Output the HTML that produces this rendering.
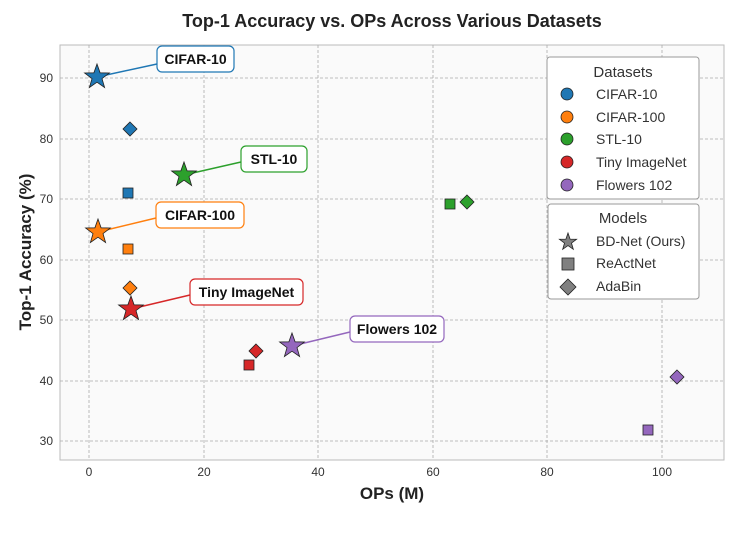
<!DOCTYPE html>
<html><head><meta charset="utf-8"><style>body{margin:0;background:#fff}svg{display:block;font-family:"Liberation Sans",Arial,sans-serif}</style></head><body>
<svg width="731" height="539" viewBox="0 0 731 539" xmlns="http://www.w3.org/2000/svg">
<defs>
<path id="star" d="M0,-13 L3.1,-4.2 12.4,-4 5,1.6 7.6,10.5 0,5.2 -7.6,10.5 -5,1.6 -12.4,-4 -3.1,-4.2Z"/>
<path id="sstar" d="M0,-9 L2.1,-2.9 8.6,-2.8 3.5,1.1 5.3,7.3 0,3.6 -5.3,7.3 -3.5,1.1 -8.6,-2.8 -2.1,-2.9Z"/>
</defs>
<rect x="60" y="45" width="664" height="415" fill="#fafafa" stroke="#bbb"/>
<g stroke="#aaa" stroke-dasharray="3,2" stroke-width="0.8">
<line x1="89" y1="45" x2="89" y2="460"/><line x1="204" y1="45" x2="204" y2="460"/><line x1="318" y1="45" x2="318" y2="460"/><line x1="433" y1="45" x2="433" y2="460"/><line x1="547" y1="45" x2="547" y2="460"/><line x1="662" y1="45" x2="662" y2="460"/>
<line x1="60" y1="78" x2="724" y2="78"/><line x1="60" y1="139" x2="724" y2="139"/><line x1="60" y1="199" x2="724" y2="199"/><line x1="60" y1="260" x2="724" y2="260"/><line x1="60" y1="320" x2="724" y2="320"/><line x1="60" y1="381" x2="724" y2="381"/><line x1="60" y1="441" x2="724" y2="441"/>
</g>
<g font-size="12" fill="#333" text-anchor="middle">
<text x="89" y="476">0</text><text x="204" y="476">20</text><text x="318" y="476">40</text><text x="433" y="476">60</text><text x="547" y="476">80</text><text x="662" y="476">100</text>
</g>
<g font-size="12" fill="#333" text-anchor="end">
<text x="53" y="82">90</text><text x="53" y="143">80</text><text x="53" y="203">70</text><text x="53" y="264">60</text><text x="53" y="324">50</text><text x="53" y="385">40</text><text x="53" y="445">30</text>
</g>
<text x="392" y="499" font-size="17" font-weight="bold" fill="#222" text-anchor="middle">OPs (M)</text>
<text transform="translate(31,252) rotate(-90)" font-size="17" font-weight="bold" fill="#222" text-anchor="middle">Top-1 Accuracy (%)</text>
<text x="392" y="27" font-size="18" font-weight="bold" fill="#222" text-anchor="middle">Top-1 Accuracy vs. OPs Across Various Datasets</text>
<g stroke-width="1.5">
<line x1="97" y1="77" x2="157" y2="64" stroke="#1f77b4"/>
<line x1="184" y1="175" x2="241" y2="162" stroke="#2ca02c"/>
<line x1="98" y1="232" x2="156" y2="218" stroke="#ff7f0e"/>
<line x1="131" y1="309" x2="190" y2="295" stroke="#d62728"/>
<line x1="292" y1="346" x2="350" y2="332" stroke="#9467bd"/>
</g>
<g stroke="#222" stroke-width="0.8">
<rect x="123" y="188" width="10" height="10" fill="#1f77b4"/>
<rect x="123" y="244" width="10" height="10" fill="#ff7f0e"/>
<rect x="244" y="360" width="10" height="10" fill="#d62728"/>
<rect x="445" y="199" width="10" height="10" fill="#2ca02c"/>
<rect x="643" y="425" width="10" height="10" fill="#9467bd"/>
<path d="M130,122 l7,7 -7,7 -7,-7z" fill="#1f77b4"/>
<path d="M130,281 l7,7 -7,7 -7,-7z" fill="#ff7f0e"/>
<path d="M256,344 l7,7 -7,7 -7,-7z" fill="#d62728"/>
<path d="M467,195 l7,7 -7,7 -7,-7z" fill="#2ca02c"/>
<path d="M677,370 l7,7 -7,7 -7,-7z" fill="#9467bd"/>
<use href="#star" x="97" y="77" fill="#1f77b4"/>
<use href="#star" x="184" y="175" fill="#2ca02c"/>
<use href="#star" x="98" y="232" fill="#ff7f0e"/>
<use href="#star" x="131" y="309" fill="#d62728"/>
<use href="#star" x="292" y="346" fill="#9467bd"/>
</g>
<g font-size="14" font-weight="bold" fill="#111" text-anchor="middle" stroke-width="1.2">
<rect x="157" y="46" width="77" height="26" rx="5" fill="#fff" stroke="#1f77b4"/><text x="195.5" y="64">CIFAR-10</text>
<rect x="241" y="146" width="66" height="26" rx="5" fill="#fff" stroke="#2ca02c"/><text x="274" y="164">STL-10</text>
<rect x="156" y="202" width="88" height="26" rx="5" fill="#fff" stroke="#ff7f0e"/><text x="200" y="220">CIFAR-100</text>
<rect x="190" y="279" width="113" height="26" rx="5" fill="#fff" stroke="#d62728"/><text x="246.5" y="297">Tiny ImageNet</text>
<rect x="350" y="316" width="94" height="26" rx="5" fill="#fff" stroke="#9467bd"/><text x="397" y="334">Flowers 102</text>
</g>
<rect x="547" y="57" width="152" height="142" rx="3" fill="#fff" stroke="#999"/>
<g font-size="14" fill="#333">
<text x="623" y="77" text-anchor="middle" font-size="15">Datasets</text>
<text x="596" y="99">CIFAR-10</text><text x="596" y="122">CIFAR-100</text><text x="596" y="144">STL-10</text><text x="596" y="167">Tiny ImageNet</text><text x="596" y="190">Flowers 102</text>
</g>
<g stroke="#222" stroke-width="0.8">
<circle cx="567" cy="94" r="6" fill="#1f77b4"/><circle cx="567" cy="117" r="6" fill="#ff7f0e"/><circle cx="567" cy="139" r="6" fill="#2ca02c"/><circle cx="567" cy="162" r="6" fill="#d62728"/><circle cx="567" cy="185" r="6" fill="#9467bd"/>
</g>
<rect x="548" y="204" width="151" height="95" rx="3" fill="#fff" stroke="#999"/>
<g font-size="14" fill="#333">
<text x="623" y="223" text-anchor="middle" font-size="15">Models</text>
<text x="596" y="246">BD-Net (Ours)</text><text x="596" y="268">ReActNet</text><text x="596" y="291">AdaBin</text>
</g>
<g stroke="#222" stroke-width="0.8" fill="#808080">
<use href="#sstar" x="568" y="242"/>
<rect x="562" y="258" width="12" height="12"/>
<path d="M568,279 l8,8 -8,8 -8,-8z"/>
</g>
</svg>
</body></html>
